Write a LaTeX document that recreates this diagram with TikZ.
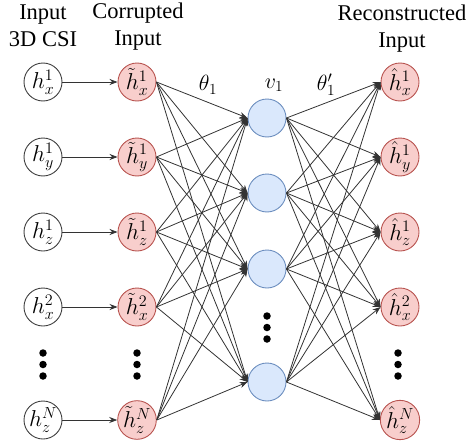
\documentclass[tikz,border=0pt]{standalone}
\usepackage{fix-cm}
\usepackage{fontspec}
\setmainfont{Liberation Serif}
\usetikzlibrary{arrows.meta}
\begin{document}
\begin{tikzpicture}[x=1pt,y=-1pt,
  neuron/.style={circle,minimum size=38pt,inner sep=0pt,line width=0.9pt,font=\fontsize{23}{26}\selectfont},
  inp/.style={neuron,draw=black!75,fill=white},
  cor/.style={neuron,draw={rgb,255:red,184;green,84;blue,80},fill={rgb,255:red,248;green,206;blue,204}},
  hid/.style={neuron,draw={rgb,255:red,108;green,142;blue,191},fill={rgb,255:red,218;green,232;blue,252}},
  lbl/.style={font=\fontsize{22.5}{27}\selectfont,align=center,inner sep=0pt},
  mlbl/.style={font=\fontsize{22}{25}\selectfont,inner sep=0pt},
  conn/.style={draw=black!80,line width=0.8pt,-{Stealth[length=8pt,width=6pt]}},
  dot/.style={circle,fill=black,inner sep=0pt,minimum size=7.5pt}
]
\useasboundingbox (0,0) rectangle (474,447);
% column labels
\node[lbl] (t1) at (43,26) {Input\\3D CSI};
\node[lbl] (t2) at (138,27) {Corrupted\\Input};
\node[lbl] (t3) at (402,29) {Reconstructed\\Input};
\node[mlbl] (th1) at (208,85) {$\theta_1$};
\node[mlbl] (v1l) at (274,85) {$v_1$};
\node[mlbl] (th2) at (326,85) {$\theta_1'$};
% input column
\node[inp] (i1) at (43,82) {$h_x^1$};
\node[inp] (i2) at (43,157) {$h_y^1$};
\node[inp] (i3) at (43,232) {$h_z^1$};
\node[inp] (i4) at (43,307) {$h_x^2$};
\node[inp] (i6) at (43,420) {$h_z^N$};
% corrupted column
\node[cor] (c1) at (137,82) {$\tilde{h}_x^1$};
\node[cor] (c2) at (137,157) {$\tilde{h}_y^1$};
\node[cor] (c3) at (137,232) {$\tilde{h}_z^1$};
\node[cor] (c4) at (137,307) {$\tilde{h}_x^2$};
\node[cor] (c6) at (137,420) {$\tilde{h}_z^N$};
% hidden column
\node[hid] (h1) at (267,118) {};
\node[hid] (h2) at (267,193) {};
\node[hid] (h3) at (267,269) {};
\node[hid] (h4) at (267,382) {};
% output column
\node[cor] (o1) at (400,82) {$\hat{h}_x^1$};
\node[cor] (o2) at (400,157) {$\hat{h}_y^1$};
\node[cor] (o3) at (400,232) {$\hat{h}_z^1$};
\node[cor] (o4) at (400,307) {$\hat{h}_x^2$};
\node[cor] (o6) at (400,420) {$\hat{h}_z^N$};
% dots
\foreach \x/\n in {43/a,137/b,398/c}{
  \node[dot] (d\n1) at (\x,353) {};
  \node[dot] (d\n2) at (\x,364.5) {};
  \node[dot] (d\n3) at (\x,376) {};
}
\node[dot] (dh1) at (267,316) {};
\node[dot] (dh2) at (267,327.5) {};
\node[dot] (dh3) at (267,339) {};
% connections
\foreach \k in {1,2,3,4,6}{
  \draw[conn] (i\k.east) -- (c\k.west);
  \foreach \j in {1,2,3,4}{
    \draw[conn] (c\k.east) -- (h\j.west);
    \draw[conn] (h\j.east) -- (o\k.west);
  }
}
\end{tikzpicture}
\end{document}
